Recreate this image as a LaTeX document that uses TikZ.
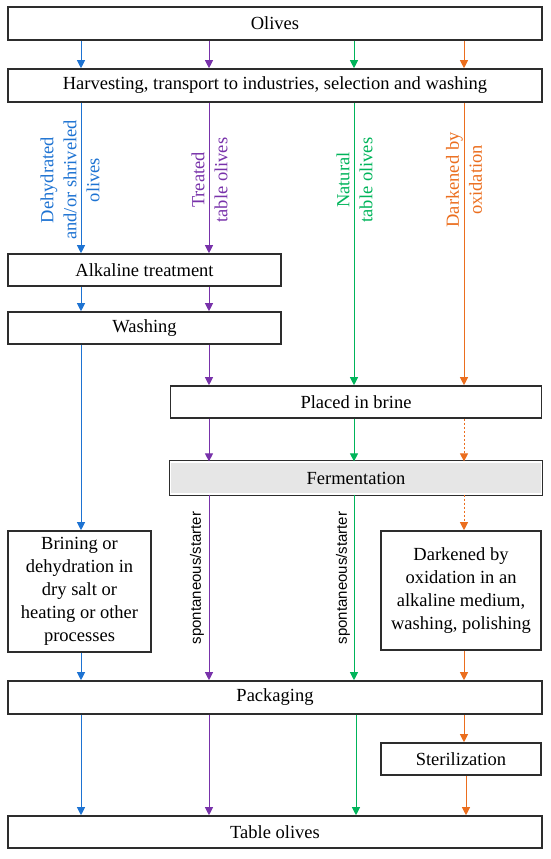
\documentclass[tikz,border=0pt]{standalone}
\usepackage{fontspec}
\setmainfont{Liberation Serif}
\newfontfamily\sansf{Liberation Sans}
\usetikzlibrary{arrows.meta}
\definecolor{cblue}{RGB}{30,115,210}
\definecolor{cpurple}{RGB}{120,50,170}
\definecolor{cgreen}{RGB}{0,180,90}
\definecolor{corange}{RGB}{235,110,30}
\definecolor{boxline}{RGB}{45,45,45}
\definecolor{fermgray}{RGB}{230,230,230}
\tikzset{
  box/.style={draw=boxline, line width=1.6pt, inner sep=0pt, align=center,
    font=\fontsize{18.5}{23}\selectfont},
  flow/.style={line width=0.9pt, -{Triangle[width=8pt,length=8pt]}},
  dotflow/.style={flow, dash pattern=on 2pt off 2pt},
  vlabel/.style={rotate=90, align=center, inner sep=0pt,
    font=\fontsize{18.5}{23}\selectfont},
  slabel/.style={rotate=90, inner sep=0pt, font=\sansf\fontsize{15}{18}\selectfont}
}
\begin{document}
\begin{tikzpicture}[x=1pt,y=-1pt]
\useasboundingbox (0,0) rectangle (550,859);
% boxes
\node[box, minimum width=534pt, minimum height=33pt] (olives) at (275,23.5) {Olives};
\node[box, minimum width=534pt, minimum height=33pt] (harv) at (275,85.5) {Harvesting, transport to industries, selection and washing};
\node[box, minimum width=273pt, minimum height=32pt] (alk) at (144.5,270) {Alkaline treatment};
\node[box, minimum width=273pt, minimum height=32pt] (wash) at (144.5,328) {Washing};
\node[box, minimum width=371pt, minimum height=32pt] (brine) at (356,402) {Placed in brine};
\node[box, minimum width=371pt, minimum height=32pt, fill=fermgray, draw=white, line width=1.2pt,
  preaction={draw=boxline, line width=3.6pt}] (ferm) at (356,478) {Fermentation};
\node[box, minimum width=143pt, minimum height=121pt] (brining) at (79.5,591.5) {Brining or\\dehydration in\\dry salt or\\heating or other\\processes};
\node[box, minimum width=160pt, minimum height=119pt] (dark) at (461,590.5) {Darkened by\\oxidation in an\\alkaline medium,\\washing, polishing};
\node[box, minimum width=534pt, minimum height=33pt] (pack) at (275,697.5) {Packaging};
\node[box, minimum width=160pt, minimum height=32pt] (steril) at (461,759) {Sterilization};
\node[box, minimum width=534pt, minimum height=32pt] (table) at (275,832) {Table olives};
% columns
\coordinate (cb) at (81,0);
\coordinate (cp) at (209,0);
\coordinate (cg) at (354,0);
\coordinate (cg2) at (356,0);
\coordinate (co) at (464,0);
\coordinate (co2) at (466,0);
% blue
\draw[flow, cblue] (olives.south -| cb) -- (harv.north -| cb);
\draw[flow, cblue] (harv.south -| cb) -- (alk.north -| cb);
\draw[flow, cblue] (alk.south -| cb) -- (wash.north -| cb);
\draw[flow, cblue] (wash.south -| cb) -- (brining.north -| cb);
\draw[flow, cblue] (brining.south -| cb) -- (pack.north -| cb);
\draw[flow, cblue] (pack.south -| cb) -- (table.north -| cb);
% purple
\draw[flow, cpurple] (olives.south -| cp) -- (harv.north -| cp);
\draw[flow, cpurple] (harv.south -| cp) -- (alk.north -| cp);
\draw[flow, cpurple] (alk.south -| cp) -- (wash.north -| cp);
\draw[flow, cpurple] (wash.south -| cp) -- (brine.north -| cp);
\draw[flow, cpurple] (brine.south -| cp) -- (ferm.north -| cp);
\draw[flow, cpurple] (ferm.south -| cp) -- (pack.north -| cp);
\draw[flow, cpurple] (pack.south -| cp) -- (table.north -| cp);
% green
\draw[flow, cgreen] (olives.south -| cg) -- (harv.north -| cg);
\draw[flow, cgreen] (harv.south -| cg) -- (brine.north -| cg);
\draw[flow, cgreen] (brine.south -| cg) -- (ferm.north -| cg);
\draw[flow, cgreen] (ferm.south -| cg) -- (pack.north -| cg);
\draw[flow, cgreen] (pack.south -| cg2) -- (table.north -| cg2);
% orange
\draw[flow, corange] (olives.south -| co) -- (harv.north -| co);
\draw[flow, corange] (harv.south -| co) -- (brine.north -| co);
\draw[dotflow, corange] (brine.south -| co) -- (ferm.north -| co);
\draw[dotflow, corange] (ferm.south -| co) -- (dark.north -| co);
\draw[flow, corange] (dark.south -| co) -- (pack.north -| co);
\draw[flow, corange] (pack.south -| co) -- (steril.north -| co);
\draw[flow, corange] (steril.south -| co2) -- (table.north -| co2);
% labels
\node[vlabel, cblue] (lb) at (70,180) {Dehydrated\\and/or shriveled\\olives};
\node[vlabel, cpurple] (lp) at (209.5,180) {Treated\\table olives};
\node[vlabel, cgreen] (lg) at (354.5,180) {Natural\\table olives};
\node[vlabel, corange] (lo) at (464,180) {Darkened by\\oxidation};
\node[slabel] (sp) at (197,578) {spontaneous/starter};
\node[slabel] (sg) at (343,578) {spontaneous/starter};
\end{tikzpicture}
\end{document}
